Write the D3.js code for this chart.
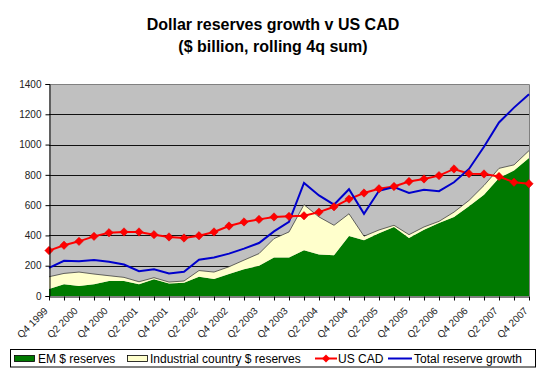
<!DOCTYPE html>
<html>
<head>
<meta charset="utf-8">
<script src="https://cdn.jsdelivr.net/npm/d3@7"></script>
<style>
  body { margin: 0; background: #fff; }
  svg { display: block; font-family: Arial, "Liberation Sans", sans-serif; }
</style>
</head>
<body>
<svg id="chart" width="547" height="374"></svg>
<script>
const quarters = ["Q4 1999","Q1 2000","Q2 2000","Q3 2000","Q4 2000","Q1 2001","Q2 2001","Q3 2001","Q4 2001",
  "Q1 2002","Q2 2002","Q3 2002","Q4 2002","Q1 2003","Q2 2003","Q3 2003","Q4 2003",
  "Q1 2004","Q2 2004","Q3 2004","Q4 2004","Q1 2005","Q2 2005","Q3 2005","Q4 2005",
  "Q1 2006","Q2 2006","Q3 2006","Q4 2006","Q1 2007","Q2 2007","Q3 2007","Q4 2007"];
const emReserves = [46,77,66,77,99,99,77,110,83,88,127,112,145,177,199,254,254,302,274,269,396,368,414,456,383,438,482,522,592,668,780,828,912];
const industrialReserves = [81,72,92,68,35,24,17,11,9,11,41,46,48,60,81,125,169,301,248,198,147,27,22,11,22,18,11,32,39,62,63,38,48];
const usCad = [300,335,361,394,418,423,423,405,390,383,398,423,462,489,506,522,526,530,554,589,640,680,708,723,756,773,795,839,808,806,789,751,741];
const totalGrowth = [186,232,230,237,226,208,164,177,149,160,239,254,280,313,350,427,489,747,664,603,705,543,695,719,681,701,692,751,839,986,1146,1244,1332];
const yTicks = [0,200,400,600,800,1000,1200,1400];
const titleLines = ["Dollar reserves growth v US CAD", "($ billion, rolling 4q sum)"];
const legendLabels = ["EM $ reserves", "Industrial country $ reserves", "US CAD", "Total reserve growth"];

(function () {
const svg = d3.select("#chart");
const pLeft = 49, pRight = 529, pTop = 84, pBottom = 296;

const x = d3.scalePoint().domain(quarters).range([pLeft, pRight]);
const y = d3.scaleLinear().domain([0, 1400]).range([pBottom, pTop]);

// Title
svg.selectAll("text.title").data(titleLines).join("text")
  .attr("class", "title")
  .attr("x", 273).attr("y", (d, i) => 30 + i * 21.5)
  .attr("text-anchor", "middle")
  .style("font-size", "16px").style("font-weight", "bold").attr("fill", "#000")
  .text(d => d);

// Plot background
svg.append("rect").attr("x", pLeft).attr("y", pTop).attr("width", pRight - pLeft).attr("height", pBottom - pTop)
  .attr("fill", "#C0C0C0");

// Gridlines
svg.append("g").selectAll("line").data(yTicks.filter(v => v > 0 && v < 1400)).join("line")
  .attr("x1", pLeft).attr("x2", pRight)
  .attr("y1", d => Math.round(y(d)) + 0.5).attr("y2", d => Math.round(y(d)) + 0.5)
  .attr("stroke", "#111").attr("stroke-width", 1);

// Stacked areas
const stackData = quarters.map((q, i) => ({ q, em: emReserves[i], ind: industrialReserves[i] }));
const stack = d3.stack().keys(["em", "ind"])(stackData);
const area = d3.area().x(d => x(d.data.q)).y0(d => y(d[0])).y1(d => y(d[1]));
const areaColors = ["#007A00", "#FFFFCC"];
svg.append("g").selectAll("path").data(stack).join("path")
  .attr("d", area).attr("fill", (d, i) => areaColors[i]);
svg.append("path").datum(stack[1])
  .attr("d", d3.line().x(d => x(d.data.q)).y(d => y(d[1])))
  .attr("fill", "none").attr("stroke", "#404040").attr("stroke-width", 0.8);

// Plot border (top/right)
svg.append("path")
  .attr("d", `M${pLeft},${pTop + 0.5}H${pRight + 0.5}V${pBottom}`)
  .attr("fill", "none").attr("stroke", "#808080").attr("stroke-width", 1);

// Lines
const lineGen = arr => d3.line().x((d, i) => x(quarters[i])).y(d => y(d))(arr);
svg.append("path").attr("d", lineGen(usCad)).attr("fill", "none")
  .attr("stroke", "#FF0000").attr("stroke-width", 2);
svg.append("path").attr("d", lineGen(totalGrowth)).attr("fill", "none")
  .attr("stroke", "#0000CC").attr("stroke-width", 2);

const diamond = (cx, cy, r) => `M${cx},${cy - r}L${cx + r},${cy}L${cx},${cy + r}L${cx - r},${cy}Z`;
svg.append("g").selectAll("path").data(usCad).join("path")
  .attr("d", (d, i) => diamond(x(quarters[i]), y(d), 4.2))
  .attr("fill", "#FF0000").attr("stroke", "#E00000").attr("stroke-width", 0.5);

// Y axis
const yAxis = svg.append("g").attr("transform", `translate(${pLeft + 0.5},0)`)
  .call(d3.axisLeft(y).tickValues(yTicks).tickSize(4).tickPadding(4).tickFormat(d3.format("d")));
yAxis.select(".domain").attr("stroke", "#000");
yAxis.selectAll(".tick line").attr("stroke", "#000");
yAxis.selectAll("text").style("font-size", "10px").attr("fill", "#222")
  .attr("font-family", "Arial, 'Liberation Sans', sans-serif");

// X axis
const xAxis = svg.append("g").attr("transform", `translate(0,${pBottom + 0.5})`)
  .call(d3.axisBottom(x).tickSize(4).tickSizeOuter(0).tickFormat((d, i) => i % 2 === 0 ? d : ""));
xAxis.select(".domain").attr("stroke", "#000");
xAxis.selectAll(".tick line").attr("stroke", "#000");
xAxis.selectAll("text")
  .style("font-size", "10px").attr("fill", "#222")
  .attr("font-family", "Arial, 'Liberation Sans', sans-serif")
  .attr("text-anchor", "end")
  .attr("dy", null).attr("y", null)
  .attr("transform", "translate(-1,15) rotate(-45)");

// Legend
const lg = svg.append("g");
lg.append("rect").attr("x", 10.5).attr("y", 349.5).attr("width", 525).attr("height", 17.5)
  .attr("fill", "#fff").attr("stroke", "#000").attr("stroke-width", 1);
lg.append("rect").attr("x", 14.5).attr("y", 355.5).attr("width", 20).attr("height", 6)
  .attr("fill", "#007A00").attr("stroke", "#000").attr("stroke-width", 0.8);
lg.append("rect").attr("x", 127.5).attr("y", 355.5).attr("width", 20).attr("height", 6)
  .attr("fill", "#FFFFCC").attr("stroke", "#000").attr("stroke-width", 0.8);
lg.append("line").attr("x1", 315).attr("x2", 337).attr("y1", 358.5).attr("y2", 358.5)
  .attr("stroke", "#FF0000").attr("stroke-width", 2);
lg.append("path").attr("d", diamond(326, 358.5, 4)).attr("fill", "#FF0000");
lg.append("line").attr("x1", 388).attr("x2", 412).attr("y1", 358.5).attr("y2", 358.5)
  .attr("stroke", "#0000CC").attr("stroke-width", 2);
const legendX = [38, 150, 338, 414];
lg.selectAll("text").data(legendLabels).join("text")
  .attr("x", (d, i) => legendX[i]).attr("y", 363)
  .style("font-size", "12px").attr("fill", "#000")
  .text(d => d);
})();
</script>
</body>
</html>
